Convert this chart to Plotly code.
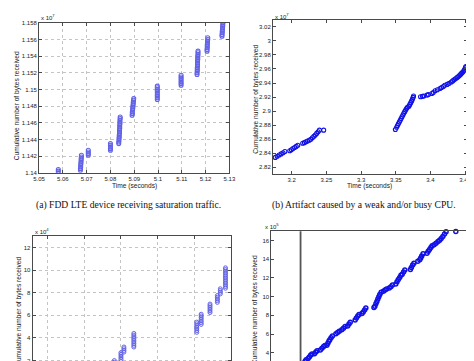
import plotly.graph_objects as go

W, H = 474, 361

# ---------------- (a) FDD LTE device receiving saturation traffic ----------------
a_time = [5.0581, 5.0581, 5.0581,
          5.0674, 5.0674, 5.0675, 5.0675, 5.0676, 5.0676, 5.0677, 5.0677, 5.0678, 5.0678,
          5.0707, 5.0707, 5.0707, 5.0707,
          5.0800, 5.0800, 5.0800, 5.0800, 5.0800,
          5.0835, 5.0835, 5.0836, 5.0836, 5.0837, 5.0837, 5.0838, 5.0838, 5.0838,
          5.0839, 5.0839, 5.0839, 5.0840, 5.0840, 5.0840, 5.0841, 5.0841,
          5.0891, 5.0892, 5.0892, 5.0893, 5.0894, 5.0894, 5.0895, 5.0896, 5.0896, 5.0897, 5.0898,
          5.0997, 5.0997, 5.0997, 5.0997, 5.0997, 5.0997, 5.0997, 5.0997, 5.0997,
          5.1097, 5.1097, 5.1097, 5.1097, 5.1097, 5.1097, 5.1097,
          5.1164, 5.1164, 5.1165, 5.1165, 5.1165, 5.1166, 5.1166, 5.1166, 5.1166, 5.1167,
          5.1167, 5.1167, 5.1168, 5.1168, 5.1168,
          5.1206, 5.1206, 5.1207, 5.1207, 5.1207, 5.1208, 5.1208, 5.1209, 5.1209,
          5.1269, 5.1269, 5.1270, 5.1270, 5.1271, 5.1271, 5.1272, 5.1272, 5.1273, 5.1273]
a_bytes = [1.1400, 1.1402, 1.1404,
           1.1403, 1.1405, 1.1407, 1.1409, 1.1411, 1.1413, 1.1415, 1.1417, 1.1419, 1.1421,
           1.1421, 1.1423, 1.1425, 1.1427,
           1.1427, 1.1429, 1.1431, 1.1433, 1.1435,
           1.1435, 1.1437, 1.1439, 1.1441, 1.1443, 1.1445, 1.1447, 1.1449, 1.1451,
           1.1453, 1.1455, 1.1457, 1.1459, 1.1461, 1.1463, 1.1465, 1.1467,
           1.1469, 1.1471, 1.1473, 1.1475, 1.1477, 1.1479, 1.1481, 1.1483, 1.1485, 1.1487, 1.1489,
           1.1488, 1.1490, 1.1492, 1.1494, 1.1496, 1.1498, 1.1500, 1.1502, 1.1504,
           1.1505, 1.1507, 1.1509, 1.1511, 1.1513, 1.1515, 1.1517,
           1.1518, 1.1520, 1.1522, 1.1524, 1.1526, 1.1528, 1.1530, 1.1532, 1.1534, 1.1536,
           1.1538, 1.1540, 1.1542, 1.1544, 1.1546,
           1.1546, 1.1548, 1.1550, 1.1552, 1.1554, 1.1556, 1.1558, 1.1560, 1.1562,
           1.1564, 1.1566, 1.1568, 1.1570, 1.1572, 1.1574, 1.1576, 1.1578, 1.1580, 1.1582]
a_xticks = [5.05, 5.06, 5.07, 5.08, 5.09, 5.10, 5.11, 5.12, 5.13]
a_xticklabels = ["5.05", "5.06", "5.07", "5.08", "5.09", "5.1", "5.11", "5.12", "5.13"]
a_yticks = [1.140, 1.142, 1.144, 1.146, 1.148, 1.150, 1.152, 1.154, 1.156, 1.158]
a_yticklabels = ["1.14", "1.142", "1.144", "1.146", "1.148", "1.15", "1.152", "1.154", "1.156", "1.158"]

# ---------------- (b) Artifact caused by a weak and/or busy CPU ----------------
b_time = [3.1763, 3.1791, 3.1819, 3.1847, 3.1875, 3.1902,
          3.1972, 3.1995, 3.2018, 3.2042, 3.2065, 3.2088,
          3.2158, 3.2182, 3.2205, 3.2228, 3.2252, 3.2275,
          3.2298, 3.2320, 3.2340, 3.2360, 3.2380, 3.2400,
          3.2461,
          3.3494,
          3.3512, 3.3525, 3.3538, 3.3551, 3.3564, 3.3577, 3.3590, 3.3603, 3.3616, 3.3629,
          3.3642, 3.3655, 3.3668, 3.3690, 3.3703, 3.3716, 3.3729, 3.3740, 3.3750, 3.3756,
          3.3857, 3.3885, 3.3904,
          3.3950, 3.3970, 3.4020, 3.4040, 3.4067,
          3.4100, 3.4137, 3.4160, 3.4185, 3.4206,
          3.4240, 3.4270, 3.4300, 3.4320, 3.4340, 3.4360, 3.4380, 3.4393, 3.4410,
          3.4425, 3.4440, 3.4455, 3.4470, 3.4485, 3.4495, 3.4505, 3.4510]
b_bytes = [2.8340, 2.8357, 2.8374, 2.8390, 2.8407, 2.8424,
           2.8434, 2.8450, 2.8466, 2.8482, 2.8497, 2.8513,
           2.8541, 2.8550, 2.8562, 2.8574, 2.8585, 2.8597,
           2.8620, 2.8640, 2.8660, 2.8682, 2.8705, 2.8728,
           2.8728,
           2.8737,
           2.8770, 2.8795, 2.8820, 2.8845, 2.8870, 2.8895, 2.8920, 2.8945, 2.8970, 2.8992,
           2.9014, 2.9035, 2.9055, 2.9070, 2.9095, 2.9120, 2.9145, 2.9170, 2.9195, 2.9214,
           2.9205, 2.9210, 2.9214,
           2.9228, 2.9235, 2.9251, 2.9265, 2.9289,
           2.9305, 2.9321, 2.9335, 2.9350, 2.9368,
           2.9380, 2.9395, 2.9415, 2.9430, 2.9445, 2.9460, 2.9475, 2.9485, 2.9500,
           2.9515, 2.9530, 2.9545, 2.9560, 2.9580, 2.9600, 2.9620, 2.9635]
b_xticks = [3.20, 3.25, 3.30, 3.35, 3.40, 3.45]
b_xticklabels = ["3.2", "3.25", "3.3", "3.35", "3.4", "3.45"]
b_yticks = [2.82, 2.84, 2.86, 2.88, 2.90, 2.92, 2.94, 2.96, 2.98, 3.00, 3.02]
b_yticklabels = ["2.82", "2.84", "2.86", "2.88", "2.9", "2.92", "2.94", "2.96", "2.98", "3", "3.02"]

# ---------------- (c) lower-left panel (cropped) ----------------
c_time = [1.17, 1.17, 1.17,
          2.82, 2.82, 2.82, 2.82, 2.82,
          3.00, 3.00, 3.00, 3.00, 3.00,
          3.08, 3.08, 3.08, 3.08,
          3.35, 3.35, 3.35, 3.35, 3.35, 3.35, 3.35, 3.35, 3.35,
          5.06, 5.06, 5.06, 5.06, 5.06, 5.06, 5.06,
          5.18, 5.18, 5.18, 5.18, 5.18, 5.18, 5.18,
          5.42, 5.42, 5.42, 5.42, 5.42, 5.42,
          5.62, 5.62, 5.62, 5.62, 5.62,
          5.70, 5.70, 5.70, 5.70,
          5.84, 5.84, 5.84, 5.84, 5.84, 5.84, 5.84, 5.84, 5.84, 5.84, 5.84, 5.84, 5.84]
c_bytes = [1.30, 1.45, 1.60,
           1.40, 1.55, 1.70, 1.85, 2.00,
           2.10, 2.25, 2.40, 2.55, 2.70,
           2.75, 2.90, 3.05, 3.20,
           3.20, 3.35, 3.50, 3.65, 3.80, 3.95, 4.10, 4.25, 4.40,
           4.50, 4.65, 4.80, 4.95, 5.10, 5.25, 5.40,
           5.20, 5.35, 5.50, 5.65, 5.80, 5.95, 6.10,
           6.25, 6.40, 6.55, 6.70, 6.85, 7.00,
           7.15, 7.30, 7.45, 7.60, 7.75,
           7.90, 8.05, 8.20, 8.35,
           8.40, 8.55, 8.70, 8.85, 9.00, 9.15, 9.30, 9.45, 9.60, 9.75, 9.90, 10.05, 10.20]
c_xticks = [1, 2, 3, 4, 5, 6]
c_yticks = [2, 4, 6, 8, 10, 12]
c_yticklabels = ["2", "4", "6", "8", "10", "12"]

# ---------------- (d) lower-right panel (cropped) ----------------
d_time = [0.327, 0.337, 0.347, 0.357,
          0.377, 0.390, 0.403, 0.417,
          0.443, 0.457, 0.470,
          0.503, 0.520, 0.537, 0.550,
          0.570, 0.580, 0.590, 0.600, 0.613, 0.627,
          0.663, 0.680, 0.697,
          0.723, 0.740, 0.757,
          0.783, 0.797, 0.810,
          0.860, 0.873, 0.887, 0.900,
          0.930, 0.943, 0.957, 0.970,
          1.053,
          1.063, 1.073, 1.083, 1.093, 1.103, 1.113, 1.127,
          1.150, 1.167, 1.183,
          1.210, 1.227, 1.243,
          1.277, 1.290, 1.303, 1.317, 1.330,
          1.343, 1.357, 1.370,
          1.427, 1.437, 1.450, 1.463,
          1.503,
          1.523, 1.533, 1.543, 1.557,
          1.597, 1.610, 1.623, 1.637, 1.650,
          1.670, 1.690, 1.710, 1.727,
          1.743, 1.760, 1.777, 1.793,
          1.893]
d_bytes = [2.70, 2.91, 3.09, 3.26,
           3.37, 3.54, 3.72, 3.86,
           3.89, 4.07, 4.21,
           4.28, 4.49, 4.66, 4.77,
           4.80, 5.01, 5.22, 5.40, 5.61, 5.78,
           6.03, 6.17, 6.31,
           6.45, 6.62, 6.80,
           6.87, 7.08, 7.25,
           7.50, 7.71, 7.92, 8.09,
           8.20, 8.37, 8.58, 8.79,
           8.83,
           8.97, 9.25, 9.49, 9.74, 9.98, 10.23, 10.47,
           10.58, 10.72, 10.82,
           10.93, 11.07, 11.24,
           11.35, 11.59, 11.84, 12.05, 12.29,
           12.40, 12.64, 12.85,
           12.92, 13.13, 13.38, 13.59,
           13.80,
           13.94, 14.15, 14.36, 14.60,
           14.64, 14.85, 15.06, 15.27, 15.44,
           15.55, 15.72, 15.90, 16.03,
           16.24, 16.45, 16.70, 16.94,
           16.98]
d_marker_time = 0.30
d_yticks = [4, 6, 8, 10, 12, 14, 16]
d_yticklabels = ["4", "6", "8", "10", "12", "14", "16"]

captions = ["(a) FDD LTE device receiving saturation traffic.",
            "(b) Artifact caused by a weak and/or busy CPU."]
y_title = "Cumulative number of bytes received"
x_title = "Time (seconds)"

# ---------------- figure ----------------
LIGHT = "#6262e6"
DARK = "#1010e8"
TXT = "#222222"
AXC = "#4a4a4a"
FONT = "Liberation Sans, Arial, sans-serif"

fig = go.Figure()
fig.add_trace(go.Scatter(x=a_time, y=a_bytes, mode="markers", xaxis="x", yaxis="y",
                         marker=dict(symbol="circle-open", size=4, color=LIGHT, line=dict(width=1.1, color=LIGHT)),
                         showlegend=False))
fig.add_trace(go.Scatter(x=b_time, y=b_bytes, mode="markers", xaxis="x2", yaxis="y2",
                         marker=dict(symbol="circle-open", size=4, color=DARK, line=dict(width=1.1, color=DARK)),
                         showlegend=False))
fig.add_trace(go.Scatter(x=c_time, y=c_bytes, mode="markers", xaxis="x3", yaxis="y3",
                         marker=dict(symbol="circle-open", size=4, color=LIGHT, line=dict(width=1.0, color=LIGHT)),
                         showlegend=False))
fig.add_trace(go.Scatter(x=d_time, y=d_bytes, mode="markers", xaxis="x4", yaxis="y4",
                         marker=dict(symbol="circle-open", size=4, color=DARK, line=dict(width=1.5, color=DARK)),
                         showlegend=False, cliponaxis=False))


def px_x(p):
    return p / W


def px_y(p):
    return 1 - p / H


tickfont = dict(family=FONT, size=6, color=TXT)
common = dict(showline=True, linecolor=AXC, linewidth=1, ticks="inside", ticklen=3,
              tickcolor=AXC, tickfont=tickfont, zeroline=False, ticklabeloverflow="allow")
grid = dict(showgrid=True, gridcolor="#c4c4c4", griddash="dot", gridwidth=1)
nogrid = dict(showgrid=False)

fig.update_layout(
    width=W, height=H, margin=dict(l=0, r=0, t=0, b=0),
    paper_bgcolor="white", plot_bgcolor="white",
    font=dict(family=FONT, color=TXT),
    xaxis=dict(domain=[px_x(25.7), px_x(221)], range=[5.05, 5.13], tickvals=a_xticks,
               ticktext=a_xticklabels, mirror="ticks", anchor="y", **common, **grid),
    yaxis=dict(domain=[px_y(164.5), px_y(12)], range=[1.14, 1.158], tickvals=a_yticks,
               ticktext=a_yticklabels, mirror="ticks", anchor="x", **common, **grid),
    xaxis2=dict(domain=[px_x(265.7), px_x(465)], range=[3.173, 3.453], tickvals=b_xticks,
                ticktext=b_xticklabels, mirror="ticks", anchor="y2", **common, **nogrid),
    yaxis2=dict(domain=[px_y(166), px_y(9)], range=[2.81, 3.03], tickvals=b_yticks,
                ticktext=b_yticklabels, mirror="ticks", anchor="x2", **common, **nogrid),
    xaxis3=dict(domain=[px_x(19), px_x(223)], range=[0.596, 6.0], tickvals=c_xticks,
                side="top", showticklabels=False, anchor="y3", **common, **grid),
    yaxis3=dict(domain=[0, px_y(229)], range=[1.52, 13], tickvals=c_yticks,
                ticktext=c_yticklabels, mirror="ticks", anchor="x3", **common, **grid),
    xaxis4=dict(domain=[px_x(264), px_x(473)], range=[0, 2.09], tickvals=[],
                side="top", showticklabels=False, anchor="y4", **common, **nogrid),
    yaxis4=dict(domain=[0, px_y(224)], range=[2.58, 17], tickvals=d_yticks,
                ticktext=d_yticklabels, mirror="ticks", anchor="x4", **common, **nogrid),
)

fig.add_shape(type="line", xref="x4", yref="y4 domain", x0=d_marker_time, x1=d_marker_time,
              y0=0, y1=1, line=dict(color="#555555", width=1.8))

ann = []
lab = dict(family=FONT, size=6.6, color=TXT)
# exponent labels
for xp, yp, e in [(26, 6.5, 7), (266, 5.5, 7), (19, 224, 4), (255, 219, 5)]:
    ann.append(dict(x=px_x(xp), y=px_y(yp), xref="paper", yref="paper", xanchor="left",
                    yanchor="middle", showarrow=False, text="x 10<sup>%d</sup>" % e,
                    font=dict(family=FONT, size=6, color=TXT)))
# y titles
for xp, yp in [(4, 96), (247.5, 90), (5, 305), (247.5, 304)]:
    ann.append(dict(x=px_x(xp), y=px_y(yp), xref="paper", yref="paper", xanchor="center",
                    yanchor="middle", showarrow=False, text=y_title, textangle=-90, font=lab))
# x titles
for xp in [124, 365]:
    ann.append(dict(x=px_x(xp), y=px_y(177.5), xref="paper", yref="paper", xanchor="center",
                    yanchor="middle", showarrow=False, text=x_title, font=lab))
# captions
for xp, t in zip([117, 359], captions):
    ann.append(dict(x=px_x(xp), y=px_y(197), xref="paper", yref="paper", xanchor="center",
                    yanchor="middle", showarrow=False, text=t,
                    font=dict(family="Liberation Serif, Times New Roman, serif", size=9.6, color="#111111")))
fig.update_layout(annotations=ann)

fig.write_html("out.html")
